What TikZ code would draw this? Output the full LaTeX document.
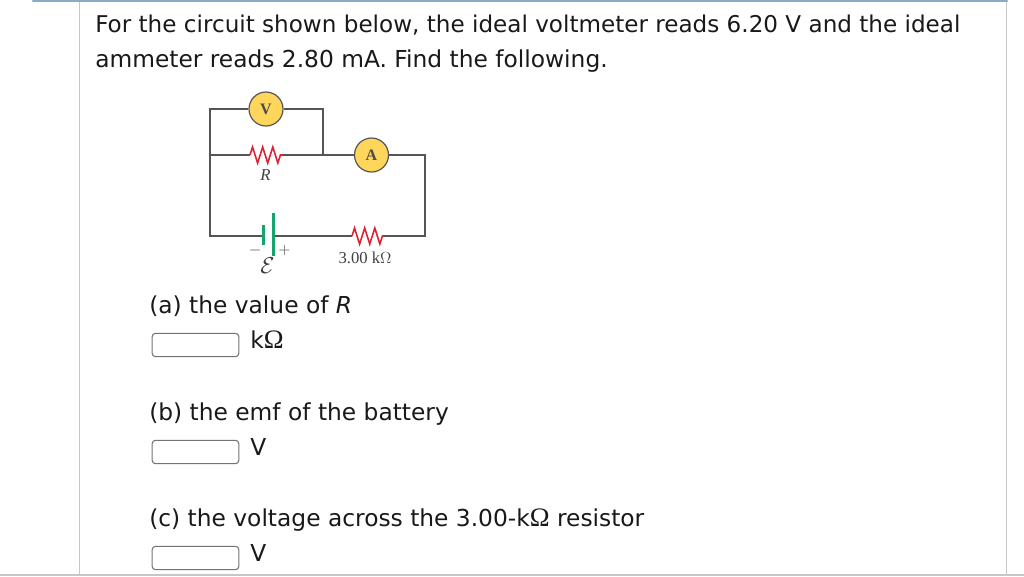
\documentclass[tikz,border=0pt]{standalone}
\usepackage{fontspec}
\setmainfont{DejaVu Sans}
\newfontfamily\labelfont{Liberation Serif}
\usepackage{xcolor}
\usetikzlibrary{positioning}
\usetikzlibrary{decorations.pathmorphing}
\definecolor{wirecolor}{RGB}{85,85,85}
\definecolor{metercolor}{RGB}{255,214,92}
\definecolor{rescolor}{RGB}{220,35,50}
\definecolor{batcolor}{RGB}{20,165,110}
\definecolor{barcolor}{RGB}{140,170,195}
\tikzset{meter node/.style={circle,fill=metercolor,draw=wirecolor,line width=0.9pt,minimum size=25.5pt,inner sep=0pt,font=\labelfont\bfseries\fontsize{12}{12}\selectfont,text=black!70},}
\tikzset{wire/.style={draw=wirecolor,line width=1pt},}
\tikzset{resistor/.style={draw=rescolor,line width=1.2pt,decorate,decoration={zigzag,amplitude=6pt,segment length=7.6pt}},}
\tikzset{plate/.style={draw=batcolor,line width=1.6pt},}
\tikzset{body text/.style={anchor=base west,inner sep=0pt,font=\fontsize{17.5}{17.5}\selectfont,text=black!90},}
\tikzset{small label/.style={inner sep=0pt,font=\labelfont\fontsize{12.5}{12.5}\selectfont,text=black!75},}
\tikzset{answer box/.style={draw=black!55,rounded corners=2.5pt,line width=0.8pt,fill=white,minimum width=65pt,minimum height=17.5pt,inner sep=0pt},}
\tikzset{frame line/.style={draw=black!22,line width=0.9pt},}
\newcommand{\ohm}{{\labelfont\fontsize{20}{20}\selectfont Ω}}
\begin{document}
\begin{tikzpicture}[x=0.75pt,y=-0.75pt]
    \useasboundingbox (0,0) rectangle (1024,576);
    % page frame
    \coordinate (fl1) at (79.5,2);
    \coordinate (fl2) at (79.5,575);
    \coordinate (fr1) at (1006.5,2);
    \coordinate (fr2) at (1006.5,575);
    \coordinate (fb1) at (0,575);
    \coordinate (fb2) at (1024,575);
    \coordinate (bar1) at (33,0.8);
    \coordinate (bar2) at (1007,0.8);
    \draw[frame line] (fl1) -- (fl2);
    \draw[frame line] (fr1) -- (fr2);
    \draw[frame line] (fb1) -- (fb2);
    \draw[draw=barcolor,line width=1.6pt,line cap=round] (bar1) -- (bar2);

    % circuit
    \node[meter node] (V) at (266,109) {V};
    \node[meter node] (A) at (371.5,155) {A};
    \coordinate (tl) at (210,109);
    \coordinate (tr) at (323,109);
    \coordinate (ml) at (210,155);
    \coordinate (mr) at (323,155);
    \coordinate (mrr) at (425,155);
    \coordinate (bl) at (210,236);
    \coordinate (brr) at (425,236);
    \coordinate (R1) at (250,155);
    \coordinate (R2) at (283,155);
    \coordinate (Rk1) at (352,236);
    \coordinate (Rk2) at (384,236);
    \coordinate (neg) at (263.5,236);
    \coordinate (pos) at (273.5,236);
    \coordinate (neg1) at (263.5,225);
    \coordinate (neg2) at (263.5,244.5);
    \coordinate (pos1) at (273.5,213);
    \coordinate (pos2) at (273.5,256);

    \draw[wire] (V) -- (tl) -- (bl) -- (neg);
    \draw[wire] (V) -- (tr) -- (mr);
    \draw[wire] (ml) -- (R1);
    \draw[wire] (R2) -- (A);
    \draw[wire] (A) -- (mrr) -- (brr) -- (Rk2);
    \draw[wire] (Rk1) -- (pos);
    \draw[resistor] (R1) -- (R2);
    \draw[resistor] (Rk1) -- (Rk2);
    \draw[plate] (neg1) -- (neg2);
    \draw[plate] (pos1) -- (pos2);

    \node[small label] (Rlab) at (265.5,175.5) {\itshape R};
    \node[small label] (klab) at (365,258) {3.00 k$\Omega$};
    \node[small label] (minus) at (255,250.5) {$-$};
    \node[small label] (plus) at (284.5,250.5) {$+$};
    \node[small label,font=\fontsize{16}{16}\selectfont] (emf) at (267.5,265.5) {$\mathcal{E}$};

    % question text
    \node[body text,font=\fontsize{17.32}{17.32}\selectfont] (q1) at (95,32) {For the circuit shown below, the ideal voltmeter reads 6.20 V and the ideal};
    \node[body text] (q2) at (95,67) {ammeter reads 2.80 mA. Find the following.};
    \node[body text] (pa) at (149,313) {(a) the value of {\itshape R}};
    \node[answer box] (boxa) at (195.5,345) {};
    \node[body text] (ua) at (250,348) {k\ohm};
    \node[body text] (pb) at (149,420) {(b) the emf of the battery};
    \node[answer box] (boxb) at (195.5,452) {};
    \node[body text] (ub) at (250,455) {V};
    \node[body text] (pc) at (149,526) {(c) the voltage across the 3.00-k\ohm{} resistor};
    \node[answer box] (boxc) at (195.5,558) {};
    \node[body text] (uc) at (250,561) {V};
\end{tikzpicture}
\end{document}
